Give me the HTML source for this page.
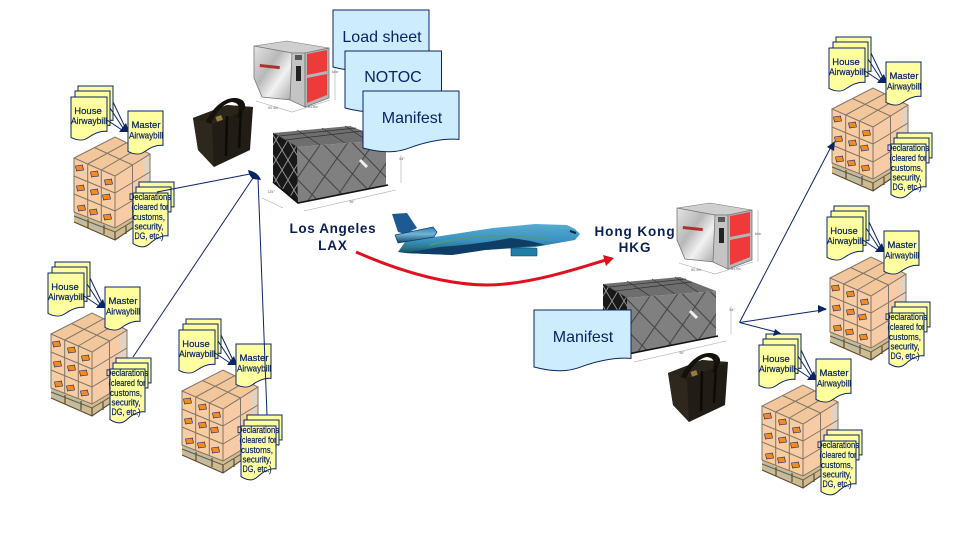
<!DOCTYPE html>
<html lang="en"><head><meta charset="utf-8"><title>Air cargo diagram</title>
<style>
html,body{margin:0;padding:0;background:#fff}
svg{display:block}
text{font-family:"Liberation Sans",sans-serif;fill:#0a2468;text-anchor:middle}
.s{font-size:9.5px;stroke:#0a2468;stroke-width:.22}
.b{font-size:16px;fill:#0a2468}
.c{font-size:13.5px;font-weight:bold;fill:#0a1f55;letter-spacing:.9px}
.d{font-size:3.5px;fill:#666}
.dim{stroke:#aaa;stroke-width:.6;fill:none}
</style></head><body>
<svg width="960" height="533" viewBox="0 0 960 533" xmlns="http://www.w3.org/2000/svg">
<defs>
<pattern id="net" width="28" height="34" patternUnits="userSpaceOnUse" patternTransform="rotate(-5)">
<path d="M0 0L28 34M28 0L0 34" stroke="#3f3f3f" stroke-width="1" fill="none"/>
</pattern>
<pattern id="net2" width="12" height="20" patternUnits="userSpaceOnUse">
<path d="M0 0L12 20M12 0L0 20" stroke="#9a9a9a" stroke-width=".9" fill="none"/>
</pattern>
<linearGradient id="pl" x1="0" y1="0" x2="0" y2="1">
<stop offset="0" stop-color="#58acd2"/><stop offset=".55" stop-color="#3a90bf"/><stop offset=".75" stop-color="#2a7a8e"/><stop offset="1" stop-color="#0c3a62"/>
</linearGradient>
<linearGradient id="eng" x1="0" y1="0" x2="0" y2="1">
<stop offset="0" stop-color="#2a7fb0"/><stop offset=".45" stop-color="#6fb6d6"/><stop offset="1" stop-color="#123e66"/>
</linearGradient>
<linearGradient id="sil" x1="0" y1="0" x2="1" y2="1">
<stop offset="0" stop-color="#e4e4e4"/><stop offset=".4" stop-color="#b8b8b8"/><stop offset=".65" stop-color="#f2f2f2"/><stop offset="1" stop-color="#a8a8a8"/>
</linearGradient>
<path id="doc" d="M0 0H100V78C80 76 62 84 48 92C36 99 22 101 0 92Z" vector-effect="non-scaling-stroke"/>

<g id="cargo">
<!-- pallet -->
<polygon points="74,212 115,228 150,207 150,216 115,240 74,222" fill="#cdbb92"/>
<polygon points="77,214 88,219 88,225 77,221" fill="#b9bca6"/>
<polygon points="92,221 106,226 106,232 92,227" fill="#b9bca6"/>
<path d="M74,216L115,232L150,211" fill="none" stroke="#6a573d" stroke-width="1"/>
<path d="M74,222L115,240L150,216M88,219V228M104,225V234M115,232V240M126,226V234" fill="none" stroke="#5d4a34" stroke-width="1.200"/>
<!-- box faces -->
<polygon points="74,158 115,176 115,228 74,212" fill="#f8cda3"/>
<polygon points="115,176 150,154 150,207 115,228" fill="#f7cba6"/>
<polygon points="74,158 115,137 150,154 115,176" fill="#f2c79c"/>
<polygon points="143,158 150,154 150,207 143,211" fill="#e4d2c0"/>
<g fill="none" stroke="#7f7567" stroke-width="1">
<path d="M74,158L115,137L150,154L115,176ZM74,158V212L115,228L150,207V154M115,176V228"/>
<path d="M87.700,164V217M101.300,170V223M74,176L115,193M74,194L115,211M132.500,165V217M115,193L150,172M115,211L150,190"/>
<path d="M94.500,147.500L132.500,165M87.700,164L126.700,142.700M101.300,170L138.300,148.300"/>
</g>
<g fill="#f58a1f" stroke="#0a2468" stroke-width=".6">
<path d="M75.500,166l7-1l1,5l-7,1z"/><path d="M90.500,172l7-1l1,5l-7,1z"/><path d="M104.500,180l7-1l1,5l-7,1z"/>
<path d="M76.500,186l7-1l1,5l-7,1z"/><path d="M90.500,190l7-1l1,5l-7,1z"/><path d="M102.500,195l7-1l1,5l-7,1z"/>
<path d="M77.500,206l7-1l1,5l-7,1z"/><path d="M89.500,210l7-1l1,5l-7,1z"/><path d="M103.500,215l7-1l1,5l-7,1z"/>
</g>
<!-- house docs -->
<g fill="#ffffa0" stroke="#0a2468" stroke-width="1">
<use href="#doc" transform="translate(78,86) scale(.35,.44)"/>
<use href="#doc" transform="translate(75,91) scale(.35,.44)"/>
<use href="#doc" transform="translate(71,97) scale(.36,.44)"/>
</g>
<path d="M113,102L125,127M110,108L123,128M107,120L122,130" stroke="#0a2468" stroke-width="1" fill="none"/>
<polygon points="129,132 119,132 126,123" fill="#0a2468"/>
<g fill="#ffffa0" stroke="#0a2468" stroke-width="1">
<use href="#doc" transform="translate(128,111) scale(.35,.44)"/>
<use href="#doc" transform="translate(139,182) scale(.35,.32)"/>
<use href="#doc" transform="translate(136,187) scale(.35,.32)"/>
<use href="#doc" transform="translate(133,193) scale(.35,.55)"/>
</g>
</g>

<g id="nettext">
<text class="s" x="88" y="114">House</text>
<text class="s" x="89" y="124" textLength="36" lengthAdjust="spacingAndGlyphs">Airwaybill</text>
<text class="s" x="146" y="128">Master</text>
<text class="s" x="146" y="138.500" textLength="34" lengthAdjust="spacingAndGlyphs">Airwaybill</text>
<text class="s" x="150" y="200" textLength="42" lengthAdjust="spacingAndGlyphs">Declarations</text>
<text class="s" x="150" y="210" textLength="37" lengthAdjust="spacingAndGlyphs">(cleared for</text>
<text class="s" x="149" y="220" textLength="32" lengthAdjust="spacingAndGlyphs">customs,</text>
<text class="s" x="149" y="229.500" textLength="29" lengthAdjust="spacingAndGlyphs">security,</text>
<text class="s" x="149" y="239" textLength="29" lengthAdjust="spacingAndGlyphs">DG, etc.)</text>
</g>

<g id="bag">
<polygon points="193,118 227,105 253,107 250,150 214,167 198,150" fill="#211c15"/>
<polygon points="193,118 212,124 214,167 198,150" fill="#2d271d"/>
<polygon points="193,118 227,105 253,107 212,124" fill="#2a251b"/>
<path d="M206,122C212,108 224,98 234,98C242,98 246,102 245,108L240,118L237,117C240,108 240,103 232,102C224,103 216,112 211,124Z" fill="#15120d"/>
<path d="M227,116L226,156M241,111L239,148" stroke="#0d0b08" stroke-width="2.500"/>
<rect x="216" y="116" width="6" height="5" fill="#9a7c3a" transform="rotate(-18 219 118)"/>
</g>

<g id="uld">
<polygon points="254,46 287,41 329,48 305,53 292,53" fill="#cfcfcf" stroke="#777" stroke-width=".6"/>
<path d="M254,46L292,53V100L262,97L254,78Z" fill="url(#sil)" stroke="#777" stroke-width=".8"/>
<polygon points="292,53 305,53 305,107 290,100" fill="#c4c4c4" stroke="#777" stroke-width=".8"/>
<polygon points="305,53 329,48 329,98 305,107" fill="#b5b5b5" stroke="#777" stroke-width=".8"/>
<polygon points="307,54 327,50 327,71 307,75" fill="#ee3a3a"/>
<polygon points="307,78 327,74 327,95 307,103" fill="#ee3a3a"/>
<rect x="296" y="66" width="5" height="15" fill="#222"/>
<rect x="295" y="55" width="7" height="5" fill="#555"/>
<rect x="260" y="64" width="20" height="3" fill="#b03030" transform="rotate(6 260 64)"/>
<path class="dim" d="M256,101L292,112L330,100M335,48V100"/>
<text class="d" x="273" y="109">60.4in</text><text class="d" x="313" y="108">61.5in</text><text class="d" x="335" y="73">64in</text>
</g>

<g id="net3">
<polygon points="273,133 350,126 386,140 297,147" fill="#6e6e6e"/>
<path d="M285,140L362,131M279,136L356,128M297,147L275,134M320,145L297,130M345,143L322,128M368,141L345,126" stroke="#333" stroke-width=".7"/>
<polygon points="297,147 386,140 386,185 298,203" fill="#808080"/>
<polygon points="297,147 386,140 386,185 298,203" fill="url(#net)"/>
<polygon points="273,133 297,147 298,203 273,182" fill="#181818"/>
<polygon points="273,133 297,147 298,203 273,182" fill="url(#net2)"/>
<path d="M273,182L298,203L388,185" stroke="#111" stroke-width="1.600" fill="none"/>
<path d="M360,160L367,167" stroke="#eee" stroke-width="3"/>
<path class="dim" d="M262,198L283,208M304,211L396,190M401,155V183"/>
<text class="d" x="352" y="203">96"</text><text class="d" x="402" y="160">64"</text><text class="d" x="271" y="193">125"</text>
</g>
</defs>

<rect width="960" height="533" fill="#fff"/>

<!-- Left containers -->
<use href="#uld"/>
<use href="#bag"/>
<use href="#net3"/>

<!-- Blue docs -->
<g fill="#cdecfd" stroke="#0a2468" stroke-width="1">
<use href="#doc" transform="translate(333,10) scale(.96,.62)"/>
<use href="#doc" transform="translate(345,51) scale(.965,.62)"/>
<use href="#doc" transform="translate(363,91) scale(.96,.62)"/>
</g>
<text class="b" x="382" y="42">Load sheet</text>
<text class="b" x="393" y="82">NOTOC</text>
<text class="b" x="412" y="123">Manifest</text>

<!-- Plane -->
<g>
<polygon points="392,214 407,213 417,228 405,234 398,232" fill="#1d5a94"/>
<path d="M398,252L405,242L428,238L493,228L535,224L567,225L575,229L580,234L575,240L535,247L485,250L452,255L405,253Z" fill="url(#pl)"/>
<path d="M405,253L440,247Q480,244 510,238Q530,240 545,245L485,250L452,255Z" fill="#0f3d66"/>
<path d="M430,245Q470,234 512,236Q530,236 550,240" stroke="#4f9a86" stroke-width="1.500" fill="none"/>
<polygon points="395,235 433,227 437,232 434,237 398,243" fill="url(#eng)" stroke="#0e3a60" stroke-width=".7"/>
<rect x="511" y="248" width="26" height="8" rx="1" fill="#1f7fa4" stroke="#0e3a60" stroke-width=".6"/>
<path d="M570,231L576,233" stroke="#123" stroke-width="2"/>
</g>

<!-- City labels -->
<text class="c" x="333" y="233" textLength="87" lengthAdjust="spacing">Los Angeles</text>
<text class="c" x="333" y="250">LAX</text>
<text class="c" x="635" y="236" textLength="81" lengthAdjust="spacing">Hong Kong</text>
<text class="c" x="635" y="252">HKG</text>

<!-- Red arrow -->
<path d="M356,252C420,280 470,288 505,284C545,280 585,266 606,260" fill="none" stroke="#e01020" stroke-width="3"/>
<polygon points="614,258 603,255 606,266" fill="#e01020"/>

<!-- Right containers -->
<use href="#uld" transform="translate(423,162)"/>
<use href="#net3" transform="translate(330,151)"/>
<g fill="#cdecfd" stroke="#0a2468" stroke-width="1">
<use href="#doc" transform="translate(534,310) scale(.97,.62)"/>
</g>
<text class="b" x="583" y="342">Manifest</text>
<use href="#bag" transform="translate(475,255)"/>

<!-- Cargo groups -->
<use href="#cargo"/><use href="#nettext"/>
<g transform="translate(-23,176)"><use href="#cargo"/><use href="#nettext"/></g>
<g transform="translate(108,233)"><use href="#cargo"/><use href="#nettext"/></g>
<g transform="translate(758,-49)"><use href="#cargo"/><use href="#nettext"/></g>
<g transform="translate(756,120)"><use href="#cargo"/><use href="#nettext"/></g>
<g transform="translate(688,248)"><use href="#cargo"/><use href="#nettext"/></g>

<!-- Connectors left -->
<g stroke="#0a2468" stroke-width="1" fill="none">
<path d="M157,192L250,174M133,357L253,178M267,415L258,178"/>
</g>
<path d="M248,170Q258,172 261,180L253,179Q249,176 248,170Z" fill="#0a2468"/>

<!-- Connectors right -->
<g stroke="#0a2468" stroke-width="1" fill="none">
<path d="M739.500,322.500L833,143M739.500,322.500L826,309.500M739.500,322.500L780,333"/>
</g>
<polygon points="835,141 834,151 827,147" fill="#0a2468"/>
<polygon points="827,309 818,313 818,305" fill="#0a2468"/>
<polygon points="781,333.500 773,336 775,329" fill="#0a2468"/>
</svg>
</body></html>
